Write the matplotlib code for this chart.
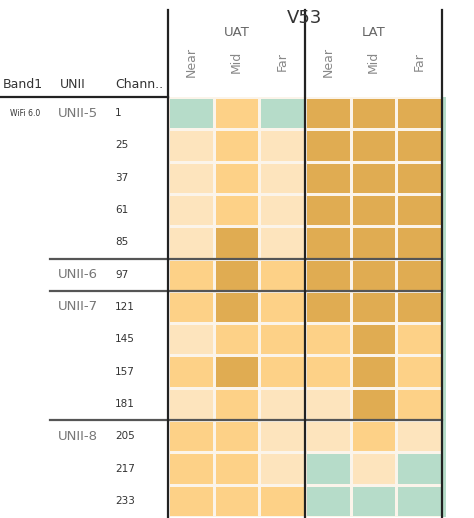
import matplotlib
matplotlib.use("Agg")
import matplotlib.pyplot as plt
from matplotlib.colors import ListedColormap
import numpy as np

channels = ["1", "25", "37", "61", "85", "97", "121", "145", "157", "181", "205", "217", "233"]
unii = {0: "UNII-5", 5: "UNII-6", 6: "UNII-7", 10: "UNII-8"}
positions = ["Near", "Mid", "Far", "Near", "Mid", "Far"]
groups = ["UAT", "LAT"]
levels = [
    [0, 2, 0, 3, 3, 3],
    [1, 2, 1, 3, 3, 3],
    [1, 2, 1, 3, 3, 3],
    [1, 2, 1, 3, 3, 3],
    [1, 3, 1, 3, 3, 3],
    [2, 3, 2, 3, 3, 3],
    [2, 3, 2, 3, 3, 3],
    [1, 2, 2, 2, 3, 2],
    [2, 3, 2, 2, 3, 2],
    [1, 2, 1, 1, 3, 2],
    [2, 2, 1, 1, 2, 1],
    [2, 2, 1, 0, 1, 0],
    [2, 2, 2, 0, 0, 0],
]

W, H = 474, 518
fig = plt.figure(figsize=(W / 100, H / 100), dpi=100)
cmap = ListedColormap(["#b6dcc9", "#fde4bd", "#fdd187", "#e0ac52"])

# full-figure overlay axes in pixel coordinates
bg = fig.add_axes([0, 0, 1, 1])
bg.set_xlim(0, W); bg.set_ylim(H, 0); bg.axis("off")

x0, x1, y0, y1 = 168, 442, 97, 517
ax = fig.add_axes([x0 / W, 1 - y1 / H, (x1 - x0) / W, (y1 - y0) / H])
data = np.array(levels)
ax.pcolormesh(data, cmap=cmap, vmin=-0.5, vmax=3.5, edgecolors="#fbf4ea", linewidth=1)
ax.set_xlim(0, 6); ax.set_ylim(len(channels), 0); ax.axis("off")
ax.set_zorder(0); bg.set_zorder(1); bg.patch.set_alpha(0)

rh = (y1 - y0) / len(channels)
cw = (x1 - x0) / 6
# green sliver at right edge
bg.add_patch(plt.Rectangle((x1 + 1, y0), 3, y1 - y0, color="#b6dcc9", lw=0))

bg.text(3, 85, "Band1", fontsize=9, color="#333333", va="center")
bg.text(60, 85, "UNII", fontsize=9, color="#333333", va="center")
bg.text(115, 85, "Chann..", fontsize=9, color="#333333", va="center")
bg.text(10, 113, "WiFi 6.0", fontsize=5.5, color="#333333", va="center")
for i, ch in enumerate(channels):
    yc = y0 + (i + 0.5) * rh
    bg.text(115, yc, ch, fontsize=7.5, color="#333333", va="center")
    if i in unii:
        bg.text(58, yc, unii[i], fontsize=9.5, color="#777777", va="center")

bg.text(305, 18, "V53", fontsize=13, color="#333333", ha="center", va="center")
for g, gname in enumerate(groups):
    bg.text(x0 + (g * 3 + 1.5) * cw, 33, gname, fontsize=9.5, color="#666666", ha="center", va="center")
for j, p in enumerate(positions):
    bg.text(x0 + (j + 0.5) * cw, 62, p, fontsize=9, color="#888888", rotation=90, ha="center", va="center")

bg.plot([0, x0], [y0, y0], color="#222222", lw=1.6)
for k in (5, 6, 10):
    yy = y0 + k * rh
    bg.plot([50, x1], [yy, yy], color="#555555", lw=1.6)
for xx in (x0, x0 + 3 * cw, x1):
    bg.plot([xx, xx], [10, H], color="#222222", lw=1.6)

fig.savefig("out.png", dpi=100)
